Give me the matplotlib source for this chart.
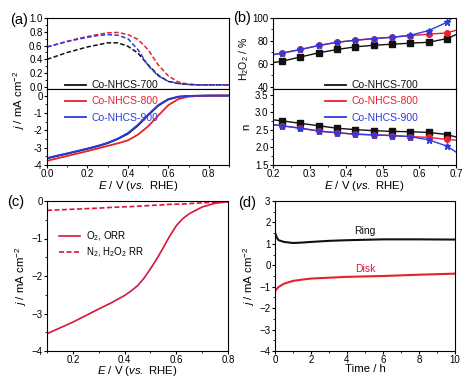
import numpy as np
import matplotlib
matplotlib.use('Agg')
import matplotlib.pyplot as plt
from matplotlib.ticker import AutoMinorLocator, MultipleLocator
from matplotlib.lines import Line2D

plt.rcParams['font.family'] = ['Liberation Sans', 'DejaVu Sans']
plt.rcParams['mathtext.fontset'] = 'custom'
plt.rcParams['mathtext.rm'] = 'Liberation Sans'
plt.rcParams['mathtext.it'] = 'Liberation Sans:italic'
plt.rcParams['font.size'] = 7
plt.rcParams['axes.linewidth'] = 0.8
plt.rcParams['xtick.major.size'] = 2.2
plt.rcParams['ytick.major.size'] = 2.2
plt.rcParams['xtick.minor.size'] = 1.3
plt.rcParams['ytick.minor.size'] = 1.3
plt.rcParams['xtick.major.pad'] = 0.8
plt.rcParams['ytick.major.pad'] = 1.0
plt.rcParams['xtick.labelsize'] = 7
plt.rcParams['ytick.labelsize'] = 7

BLACK = '#111111'
RED = '#e8212e'
BLUE = '#2b3be0'
CRIMSON = '#d8163c'

# (a) RRDE 曲线
pot_a = [0, 0.05, 0.1, 0.15, 0.2, 0.25, 0.3, 0.35, 0.4, 0.45, 0.5, 0.55, 0.6,
         0.65, 0.7, 0.75, 0.8, 0.85, 0.9]
ring_700 = [0.40, 0.45, 0.50, 0.54, 0.58, 0.61, 0.64, 0.64, 0.59, 0.49, 0.32, 0.17,
            0.08, 0.05, 0.035, 0.03, 0.03, 0.03, 0.03]
ring_800 = [0.58, 0.62, 0.66, 0.70, 0.73, 0.76, 0.785, 0.79, 0.76, 0.69, 0.54, 0.32,
            0.16, 0.07, 0.04, 0.03, 0.03, 0.03, 0.03]
ring_900 = [0.58, 0.62, 0.66, 0.69, 0.72, 0.745, 0.76, 0.75, 0.70, 0.54, 0.31, 0.16,
            0.08, 0.05, 0.035, 0.03, 0.03, 0.03, 0.03]
disk_700 = [-3.62, -3.48, -3.35, -3.21, -3.07, -2.92, -2.74, -2.50, -2.20, -1.72,
            -1.13, -0.58, -0.22, -0.07, -0.02, -0.01, 0, 0, 0]
disk_800 = [-3.76, -3.62, -3.48, -3.34, -3.20, -3.05, -2.90, -2.75, -2.58, -2.25,
            -1.77, -1.15, -0.55, -0.20, -0.06, -0.02, -0.01, 0, 0]
disk_900 = [-3.60, -3.46, -3.33, -3.19, -3.05, -2.90, -2.72, -2.48, -2.16, -1.68,
            -1.10, -0.55, -0.20, -0.06, -0.02, -0.01, 0, 0, 0]

# (b) H2O2 产率和电子转移数
pot_b = [0.2, 0.225, 0.275, 0.325, 0.375, 0.425, 0.475, 0.525, 0.575, 0.625, 0.675, 0.7]
h2o2_700 = [61, 62.3, 66, 69.6, 72.5, 74.8, 76.2, 77.1, 78, 78.8, 82, 85.5]
h2o2_800 = [68, 69.3, 72.5, 76, 78.8, 80.6, 82, 83.2, 84.6, 85.8, 87, 89.3]
h2o2_900 = [68, 69.3, 72.5, 76, 78.8, 80.6, 82, 83.2, 84.9, 89, 96.2, 103]
n_700 = [2.79, 2.76, 2.69, 2.62, 2.55, 2.51, 2.48, 2.46, 2.45, 2.43, 2.37, 2.30]
n_800 = [2.65, 2.62, 2.55, 2.47, 2.42, 2.38, 2.36, 2.34, 2.31, 2.29, 2.23, 2.21]
n_900 = [2.65, 2.62, 2.55, 2.47, 2.42, 2.38, 2.36, 2.34, 2.31, 2.22, 2.04, 1.87]

# (c) O2 ORR 与 N2 H2O2RR
pot_c = [0.1, 0.2, 0.3, 0.35, 0.4, 0.425, 0.45, 0.475, 0.5, 0.525, 0.55, 0.575,
         0.6, 0.625, 0.65, 0.7, 0.75, 0.8]
orr_o2 = [-3.54, -3.23, -2.88, -2.71, -2.52, -2.40, -2.26, -2.06, -1.81, -1.54, -1.24,
          -0.93, -0.66, -0.47, -0.34, -0.16, -0.06, -0.02]
h2o2rr_n2 = [-0.25, -0.22, -0.19, -0.17, -0.155, -0.15, -0.14, -0.13, -0.12, -0.11,
             -0.10, -0.09, -0.085, -0.08, -0.07, -0.05, -0.035, -0.02]

# (d) 稳定性
time_h = [0, 0.1, 0.2, 0.5, 1, 1.5, 2, 3, 4, 6, 8, 10]
ring_t = [1.52, 1.30, 1.17, 1.09, 1.04, 1.06, 1.09, 1.14, 1.17, 1.21, 1.21, 1.20]
disk_t = [-1.21, -1.10, -1.01, -0.86, -0.73, -0.67, -0.62, -0.58, -0.54, -0.50, -0.44, -0.39]

labels_b = ['Co-NHCS-700', 'Co-NHCS-800', 'Co-NHCS-900']

W, H = 474, 379
fig = plt.figure(figsize=(W / 100, H / 100), dpi=100)


def px_axes(left, top, right, bottom):
    return fig.add_axes([left / W, 1 - bottom / H, (right - left) / W, (bottom - top) / H])


def style(ax):
    ax.tick_params(direction='out', top=False, right=False)
    ax.tick_params(which='minor', direction='out', top=False, right=False)
    ax.xaxis.set_minor_locator(AutoMinorLocator(2))
    ax.yaxis.set_minor_locator(AutoMinorLocator(2))


Exlabel = r'$E\ /\ \mathrm{V}\ \mathrm{(}vs.\ \mathrm{RHE)}$'
jlabel = r'$j$ / mA cm$^{-2}$'
LBL = 8.2

# ---- (a)
a1 = px_axes(47, 18, 229, 89)
a2 = px_axes(47, 89, 229, 165)
a1.plot(pot_a, ring_700, '--', color=BLACK, lw=1.1, dashes=(3, 1.5))
a1.plot(pot_a, ring_800, '--', color=RED, lw=1.1, dashes=(3, 1.5))
a1.plot(pot_a, ring_900, '--', color=BLUE, lw=1.1, dashes=(3, 1.5))
a2.plot(pot_a, disk_700, '-', color=BLACK, lw=1.3)
a2.plot(pot_a, disk_800, '-', color=RED, lw=1.3)
a2.plot(pot_a, disk_900, '-', color=BLUE, lw=1.3)
a1.set_xlim(0, 0.9)
a2.set_xlim(0, 0.9)
a1.set_ylim(-0.03, 1.0)
a2.set_ylim(-4, 0.38)
a1.yaxis.set_major_locator(MultipleLocator(0.2))
a1.yaxis.set_major_formatter(plt.FormatStrFormatter('%.1f'))
a2.yaxis.set_major_locator(MultipleLocator(1))
a2.yaxis.set_major_formatter(plt.FuncFormatter(lambda v, p: '%d' % v))
for ax in (a1, a2):
    style(ax)
    ax.xaxis.set_major_locator(MultipleLocator(0.2))
    ax.xaxis.set_major_formatter(plt.FormatStrFormatter('%.1f'))
a1.tick_params(labelbottom=False)
a2.set_xlabel(Exlabel, fontsize=LBL, labelpad=0)
fig.text(19 / W, 1 - 100 / H, jlabel, rotation=90, ha='center', va='center', fontsize=LBL)
fig.legend([Line2D([], [], color=c, lw=1.3) for c in (BLACK, RED, BLUE)], labels_b,
           loc='upper left', bbox_to_anchor=(60 / W, 1 - 75 / H), frameon=False,
           handlelength=2.0, labelspacing=0.6, borderpad=0, handletextpad=0.5,
           labelcolor=[BLACK, RED, BLUE], fontsize=7.5)

# ---- (b)
b1 = px_axes(273, 18, 456, 89)
b2 = px_axes(273, 89, 456, 165)
series_b = [(h2o2_700, n_700, BLACK, 's', 4), (h2o2_800, n_800, RED, 'o', 4),
            (h2o2_900, n_900, BLUE, '*', 5)]
for h, n, c, m, ms in series_b:
    b1.plot(pot_b, h, '-', color=c, lw=1.0)
    b1.plot(pot_b[1:-1], h[1:-1], m, color=c, ms=ms, ls='none')
    b2.plot(pot_b, n, '-', color=c, lw=1.0)
    b2.plot(pot_b[1:-1], n[1:-1], m, color=c, ms=ms, ls='none')
for ax in (b1, b2):
    style(ax)
    ax.set_xlim(0.2, 0.7)
    ax.xaxis.set_major_locator(MultipleLocator(0.1))
    ax.xaxis.set_major_formatter(plt.FormatStrFormatter('%.1f'))
b1.set_ylim(38, 100)
b1.yaxis.set_major_locator(MultipleLocator(20))
b2.set_ylim(1.5, 3.67)
b2.yaxis.set_major_locator(MultipleLocator(0.5))
b2.yaxis.set_major_formatter(plt.FormatStrFormatter('%.1f'))
b1.tick_params(labelbottom=False)
b1.set_ylabel(r'H$_2$O$_2$ / %', fontsize=7.5, labelpad=1)
b1.yaxis.set_label_coords(-0.12, 0.42)
b2.set_ylabel('n', fontsize=LBL, labelpad=3)
b2.set_xlabel(Exlabel, fontsize=LBL, labelpad=0)
fig.legend([Line2D([], [], color=c, lw=1.3) for c in (BLACK, RED, BLUE)], labels_b,
           loc='upper left', bbox_to_anchor=(320 / W, 1 - 75 / H), frameon=False,
           handlelength=2.0, labelspacing=0.6, borderpad=0, handletextpad=0.5,
           labelcolor=[BLACK, RED, BLUE], fontsize=7.5)

# ---- (c)
c1 = px_axes(47, 201, 228, 351)
c1.plot(pot_c, orr_o2, '-', color=CRIMSON, lw=1.2, label=r'O$_2$, ORR')
c1.plot(pot_c, h2o2rr_n2, '--', color=CRIMSON, lw=1.2, dashes=(3, 1.5),
        label=r'N$_2$, H$_2$O$_2$ RR')
style(c1)
c1.set_xlim(0.1, 0.8)
c1.set_ylim(-4, 0)
c1.xaxis.set_major_locator(MultipleLocator(0.2))
c1.xaxis.set_major_formatter(plt.FormatStrFormatter('%.1f'))
c1.yaxis.set_major_locator(MultipleLocator(1))
c1.set_xlabel(Exlabel, fontsize=LBL, labelpad=-1)
c1.set_ylabel(jlabel, fontsize=LBL, labelpad=2)
c1.legend(loc='upper left', bbox_to_anchor=(0.04, 0.84), frameon=False, handlelength=2.2,
          labelspacing=0.25, borderpad=0, handletextpad=0.6, fontsize=7)

# ---- (d)
d1 = px_axes(275, 201, 455, 351)
d1.plot(time_h, ring_t, '-', color=BLACK, lw=1.5)
d1.plot(time_h, disk_t, '-', color=RED, lw=1.5)
style(d1)
d1.set_xlim(0, 10)
d1.set_ylim(-4, 3)
d1.xaxis.set_major_locator(MultipleLocator(2))
d1.yaxis.set_major_locator(MultipleLocator(1))
d1.set_xlabel('Time / h', fontsize=LBL, labelpad=-1)
d1.set_ylabel(jlabel, fontsize=LBL, labelpad=2)
d1.text(5.0, 1.6, 'Ring', ha='center', va='center', fontsize=7.5, color=BLACK)
d1.text(5.0, -0.17, 'Disk', ha='center', va='center', fontsize=7.5, color=CRIMSON)

# 面板标签
for lab, x, y in [('(a)', 10, 20), ('(b)', 233, 18), ('(c)', 7, 202), ('(d)', 238, 203)]:
    fig.text(x / W, 1 - y / H, lab, fontsize=10.5, ha='left', va='center')

fig.savefig('out.png', dpi=100)
